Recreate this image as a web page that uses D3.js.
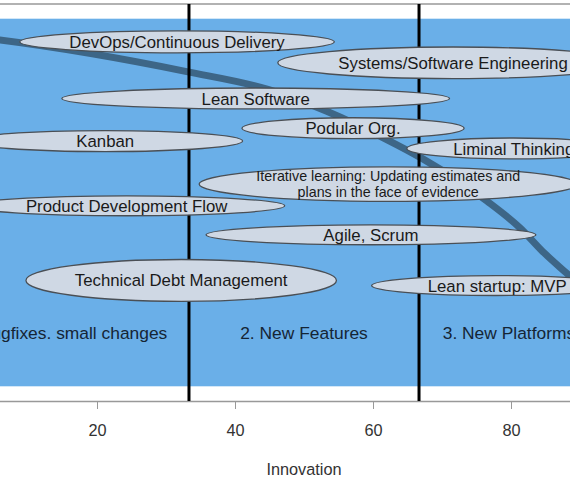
<!DOCTYPE html>
<html>
<head>
<meta charset="utf-8">
<script src="https://cdn.jsdelivr.net/npm/d3@7"></script>
<style>
  body { margin: 0; background: #fff; }
  svg { font-family: "Liberation Sans", Arial, Helvetica, sans-serif; }
</style>
</head>
<body>
<svg id="chart" width="570" height="500"></svg>
<script>
// x = innovation, y = arbitrary 0..100 vertical position
var tickValues = [20, 40, 60, 80];
var boundaries = [33.33, 66.67];

var regionLabels = ["1. Bugfixes. small changes", "2. New Features", "3. New Platforms"];
var regionX = [15.2, 50, 79.7];
var regionY = 14.7;

// the dark curve
var curveX = [0, 5.9, 33.0, 44.9, 53.3, 61.7, 67.1, 76.5, 81.3, 84.9, 88.1, 90];
var curveY = [95.5, 94.2, 85.6, 80.7, 74.8, 67.4, 62.0, 50.4, 43.1, 36.1, 30.7, 27.5];

// ellipses: label lines, centre, radii, label x
var practices = [
  ["DevOps/Continuous Delivery"],
  ["Systems/Software Engineering"],
  ["Lean Software"],
  ["Podular Org."],
  ["Kanban"],
  ["Liminal Thinking"],
  ["Iterative learning: Updating estimates and", "plans in the face of evidence"],
  ["Product Development Flow"],
  ["Agile, Scrum"],
  ["Technical Debt Management"],
  ["Lean startup: MVP"]
];
var practiceX  = [31.6, 71.6, 43.0, 57.1, 21.2, 80.4, 62.2, 24.3, 59.7, 32.2, 77.8];
var practiceY  = [93.7, 88.0, 78.3, 70.2, 66.7, 64.7, 55.0, 49.1, 41.2, 28.8, 27.4];
var practiceRx = [22.8, 25.4, 28.1, 16.1, 19.9, 15.5, 27.4, 22.9, 23.9, 22.5, 18.0];
var practiceRy = [3.0, 4.3, 2.85, 2.85, 2.85, 2.85, 4.7, 2.7, 2.7, 5.7, 2.7];
var labelX     = [31.6, 71.6, 43.0, 57.1, 21.2, 80.4, 62.2, 24.3, 59.7, 32.2, 78.0];

var svg = d3.select("#chart");

var x = d3.scaleLinear().domain([-4, 104]).range([-68.6, 676.6]);
var y = d3.scaleLinear().domain([-4, 104]).range([401, 4]);

// blue panel
svg.append("rect")
  .attr("x", x(0)).attr("y", y(100))
  .attr("width", x(100) - x(0)).attr("height", y(0) - y(100))
  .attr("fill", "#6aafe8");

// plot box top border
svg.append("line")
  .attr("x1", x(-4)).attr("x2", x(104))
  .attr("y1", y(104)).attr("y2", y(104))
  .attr("stroke", "#999").attr("stroke-width", 1.5);

// x axis
var xAxis = d3.axisBottom(x).tickValues(tickValues).tickSize(8).tickPadding(15.5);
var gx = svg.append("g").attr("transform", "translate(0," + y(-4) + ")").call(xAxis);
gx.select(".domain").attr("stroke", "#999").attr("stroke-width", 1.5);
gx.selectAll(".tick line").attr("stroke", "#999");
gx.selectAll(".tick text").attr("fill", "#333").style("font-size", "16.3px").style("font-family", null);

svg.append("text")
  .attr("x", x(50)).attr("y", 475)
  .attr("text-anchor", "middle")
  .attr("fill", "#333")
  .style("font-size", "16.3px")
  .text("Innovation");

// curve
var line = d3.line()
  .x(function(d) { return x(d[0]); })
  .y(function(d) { return y(d[1]); })
  .curve(d3.curveMonotoneX);

svg.append("path")
  .datum(d3.zip(curveX, curveY))
  .attr("d", line)
  .attr("fill", "none")
  .attr("stroke", "#3d6687")
  .attr("stroke-width", 7);

// region boundaries
svg.selectAll(".bound").data(boundaries).enter().append("line")
  .attr("x1", function(d) { return x(d); })
  .attr("x2", function(d) { return x(d); })
  .attr("y1", y(104)).attr("y2", y(-4))
  .attr("stroke", "#000").attr("stroke-width", 3);

// region labels
svg.selectAll(".region").data(regionLabels).enter().append("text")
  .attr("x", function(d, i) { return x(regionX[i]); })
  .attr("y", y(regionY))
  .attr("dy", "0.36em")
  .attr("text-anchor", "middle")
  .attr("fill", "#152535")
  .style("font-size", "17.4px")
  .text(function(d) { return d; });

// practice ellipses
var g = svg.selectAll(".practice").data(practices).enter().append("g");

g.append("ellipse")
  .attr("cx", function(d, i) { return x(practiceX[i]); })
  .attr("cy", function(d, i) { return y(practiceY[i]); })
  .attr("rx", function(d, i) { return x(practiceRx[i]) - x(0); })
  .attr("ry", function(d, i) { return y(0) - y(practiceRy[i]); })
  .attr("fill", "#cfd8e4")
  .attr("stroke", "#4a4f55")
  .attr("stroke-width", 1.3);

g.each(function(lines, i) {
  var small = lines.length > 1;
  var fs = small ? 14.3 : 16.8;
  var t = d3.select(this).append("text")
    .attr("x", x(labelX[i]))
    .attr("y", y(practiceY[i]))
    .attr("text-anchor", "middle")
    .attr("fill", "#1a1a1a")
    .style("font-size", fs + "px");
  lines.forEach(function(s, k) {
    t.append("tspan")
      .attr("x", x(labelX[i]))
      .attr("dy", k === 0 ? (0.36 - (lines.length - 1) * 0.57) + "em" : "1.14em")
      .text(s);
  });
});
</script>
</body>
</html>
